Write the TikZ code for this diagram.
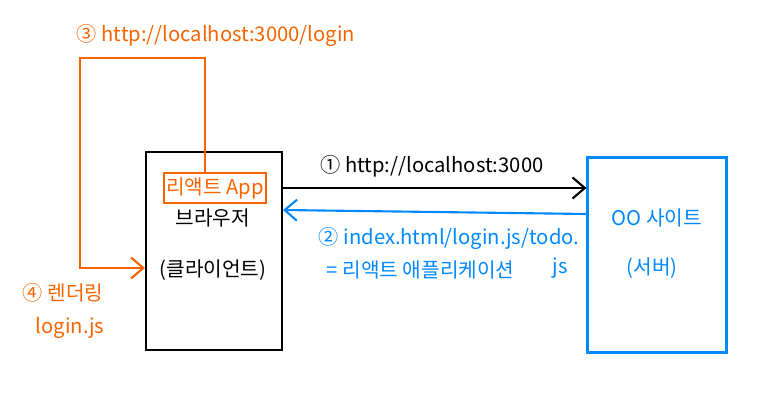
\documentclass[tikz,border=0pt]{standalone}
\usepackage{fontspec}
\setmainfont{Noto Sans CJK KR}
\usetikzlibrary{arrows.meta,positioning}
\definecolor{hand orange}{RGB}{250,100,0}
\definecolor{hand blue}{RGB}{0,136,255}

\begin{document}
\begin{tikzpicture}[x=0.02cm,y=-0.02cm,line width=1.2pt,>={Straight Barb[length=7pt,width=12pt]},font=\fontsize{11.5}{13}\selectfont,
    box/.style = {draw,inner sep=0},
    orng/.style = {hand orange,text=hand orange},
    blu/.style = {hand blue,text=hand blue}]
            \useasboundingbox (0,0) rectangle (769,401);
            % boxes
            \node[box,minimum width=2.72cm,minimum height=3.96cm](browser) at (214,251){};
            \node[box,blu,minimum width=2.78cm,minimum height=3.9cm](server) at (657,255){};
            \node[box,orng,minimum width=2.04cm,minimum height=0.6cm](app) at (215,188){리액트 App};
            \node(brname) at (213,218){브라우저};
            \node(brsub) at (213,270){(클라이언트)};
            \node[blu](svname) at (657,218){OO 사이트};
            \node[blu](svsub) at (652,268){(서버)};
            % labels
            \node[orng,anchor=west](step3) at (70,35){③ http://localhost:3000/login};
            \node(step1) at (432,166){① http://localhost:3000};
            \node[blu,anchor=west](step2) at (312,238){② index.html/login.js/todo.};
            \node[blu](step2js) at (560,268){js};
            \node[blu,anchor=west](reactapp) at (320,270){= 리액트 애플리케이션};
            \node[orng,anchor=west](step4) at (16,293){④ 렌더링};
            \node[orng](loginjs) at (70,328){login.js};
            \coordinate(corner) at (80,58);
            % connectors
            \draw[->] (browser.east |- app) -- (server.west |- app);
            \draw[->,hand blue] ([yshift=0.82cm]server.west) -- ([yshift=0.82cm]browser.west -| browser.east);
            \draw[->,hand orange] ([xshift=-0.2cm]app.north) |- (corner) |- ([yshift=-0.34cm]browser.west);
    \end{tikzpicture}
\end{document}
